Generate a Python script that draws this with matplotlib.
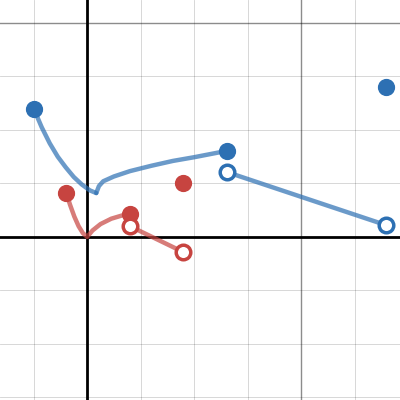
import matplotlib.pyplot as plt
import numpy as np

blue = '#2d70b3'
red = '#c74440'

# curves
blue_left_x = [-1.0, -0.85, -0.7, -0.55, -0.4, -0.25, -0.1, 0.05, 0.17]
blue_left_y = [2.4, 2.05, 1.75, 1.5, 1.3, 1.12, 0.98, 0.87, 0.82]
blue_right_x = [0.17, 0.22, 0.3, 0.5, 0.8, 1.2, 1.6, 2.0, 2.62]
blue_right_y = [0.82, 0.95, 1.04, 1.13, 1.23, 1.33, 1.42, 1.49, 1.61]
blue_seg_x = [2.62, 5.59]
blue_seg_y = [1.21, 0.22]
blue_filled_x = [-1.0, 2.62, 5.59]
blue_filled_y = [2.4, 1.61, 2.8]
blue_open_x = [2.62, 5.59]
blue_open_y = [1.21, 0.22]

red_curve_x = [-0.39, -0.32, -0.24, -0.16, -0.08, 0.0, 0.1, 0.25, 0.45, 0.65, 0.8]
red_curve_y = [0.82, 0.6, 0.38, 0.2, 0.07, 0.0, 0.12, 0.24, 0.34, 0.4, 0.43]
red_seg_x = [0.8, 1.79]
red_seg_y = [0.2, -0.28]
red_filled_x = [-0.39, 0.8, 1.79]
red_filled_y = [0.82, 0.43, 1.0]
red_open_x = [0.8, 1.79]
red_open_y = [0.2, -0.28]

fig = plt.figure(figsize=(4, 4), dpi=100)
ax = fig.add_axes([0, 0, 1, 1])
ax.set_xlim(-1.63, 5.85)
ax.set_ylim(-3.05, 4.43)
for v in range(-1, 6):
    ax.axvline(v, color='#000000', lw=1.0 if v % 4 == 0 and v != 0 else 0.6,
               alpha=0.45 if v % 4 == 0 else 0.18, zorder=0)
for v in range(-3, 5):
    ax.axhline(v, color='#000000', lw=1.0 if v % 4 == 0 and v != 0 else 0.6,
               alpha=0.45 if v % 4 == 0 else 0.18, zorder=0)
ax.axvline(0, color='black', lw=2, zorder=1)
ax.axhline(0, color='black', lw=2, zorder=1)

kw = dict(lw=3.2, alpha=0.7, solid_capstyle='round', zorder=2)
ax.plot(blue_left_x, blue_left_y, color=blue, **kw)
ax.plot(blue_right_x, blue_right_y, color=blue, **kw)
ax.plot(blue_seg_x, blue_seg_y, color=blue, **kw)
ax.plot(red_curve_x, red_curve_y, color=red, **kw)
ax.plot(red_seg_x, red_seg_y, color=red, **kw)

ax.scatter(blue_filled_x, blue_filled_y, s=130, color=blue, zorder=4)
ax.scatter(red_filled_x, red_filled_y, s=130, color=red, zorder=4)
ax.scatter(blue_open_x, blue_open_y, s=110, facecolor='white', edgecolor=blue, lw=2.5, zorder=4)
ax.scatter(red_open_x, red_open_y, s=110, facecolor='white', edgecolor=red, lw=2.5, zorder=4)

ax.axis('off')
fig.savefig('out.png', dpi=100)
